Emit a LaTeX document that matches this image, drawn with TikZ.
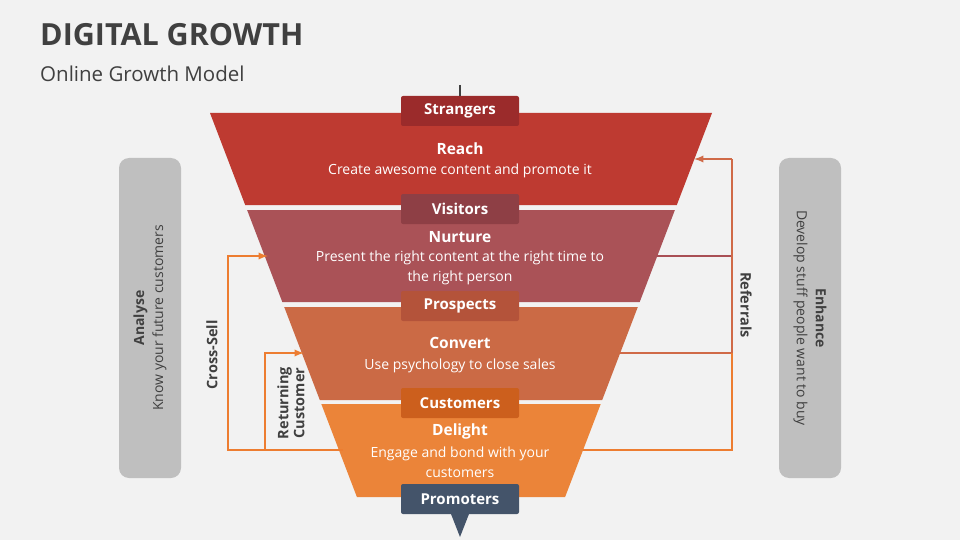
\documentclass[tikz,border=0pt]{standalone}
\usepackage{fontspec}
\setmainfont{Open Sans}
\begin{document}
\begin{tikzpicture}[x=1pt,y=-1pt,
  lbl/.style={rounded corners=2pt,minimum width=118pt,minimum height=30pt,inner sep=0pt,text=white,font=\bfseries\fontsize{15}{17}\selectfont},
  ttl/.style={text=white,font=\bfseries\fontsize{15.5}{18}\selectfont},
  sub/.style={text=white,font=\fontsize{14}{20}\selectfont,align=center},
  side/.style={fill=black!25,rounded corners=10pt},
  conn/.style={line width=2.2pt},
  dk/.style={text=black!75,font=\bfseries\fontsize{14.5}{16}\selectfont}]
\fill[black!5] (0,0) rectangle (960,540);
\useasboundingbox (0,0) rectangle (960,540);
\node[anchor=west,text=black!75,inner sep=0pt,font=\bfseries\fontsize{30.5}{34}\selectfont] (title) at (40,35) {DIGITAL GROWTH};
\node[anchor=west,text=black!75,inner sep=0pt,font=\fontsize{20.5}{24}\selectfont] (subt) at (40,74) {Online Growth Model};
% funnel bands
\fill[fill={rgb,255:red,190;green,58;blue,49}] (210,113) -- (712,113) -- (676.8,205) -- (245.2,205) -- cycle;
\fill[fill={rgb,255:red,170;green,82;blue,87}] (247.1,210) -- (674.9,210) -- (639.7,302) -- (282.3,302) -- cycle;
\fill[fill={rgb,255:red,203;green,106;blue,69}] (284.2,307) -- (637.8,307) -- (602.2,400) -- (319.8,400) -- cycle;
\fill[fill={rgb,255:red,235;green,132;blue,57}] (321.3,404) -- (600.7,404) -- (565.1,497) -- (356.9,497) -- cycle;
% side boxes
\fill[side] (119,158) rectangle (181,478);
\fill[side] (779,158) rectangle (841,478);
\node[rotate=90,align=center,text=black!75,font=\fontsize{14}{19}\selectfont] (an) at (150,318) {\textbf{Analyse}\\Know your future customers};
\node[rotate=-90,align=center,text=black!75,font=\fontsize{14}{19}\selectfont] (en) at (810,318) {\textbf{Enhance}\\Develop stuff people want to buy};
% labels
\node[lbl,fill={rgb,255:red,155;green,43;blue,43}] (s1) at (460,111) {Strangers};
\coordinate (tp) at (s1.north |- 0,85);
\draw[line width=2pt,black!75] (tp) -- (s1.north);
\node[lbl,fill={rgb,255:red,142;green,63;blue,69}] (s2) at (460,209) {Visitors};
\node[lbl,fill={rgb,255:red,180;green,83;blue,58}] (s3) at (460,306) {Prospects};
\node[lbl,fill={rgb,255:red,204;green,95;blue,29}] (s4) at (460,403) {Customers};
\node[lbl,fill={rgb,255:red,68;green,84;blue,106}] (s5) at (460,499) {Promoters};
\coordinate (bt) at (460,537);
\fill[fill={rgb,255:red,68;green,84;blue,106}] (451,514) -- (469,514) -- (bt) -- cycle;
% texts
\node[ttl] (t1) at (460,149) {Reach};
\node[sub] (d1) at (460,171) {Create awesome content and promote it};
\node[ttl] (t2) at (460,237) {Nurture};
\node[sub] (d2) at (460,268) {Present the right content at the right time to\\the right person};
\node[ttl] (t3) at (460,343) {Convert};
\node[sub] (d3) at (460,366) {Use psychology to close sales};
\node[ttl] (t4) at (460,431) {Delight};
\node[sub] (d4) at (460,462) {Engage and bond with your\\customers};
% left connectors
\coordinate (c4l) at (343,450);
\coordinate (c2l) at (268,256);
\coordinate (c3l) at (304,353);
\draw[conn,draw={rgb,255:red,237;green,125;blue,49},-latex] (c4l) -- (228,450) -- (228,256) -- (c2l);
\draw[conn,draw={rgb,255:red,237;green,125;blue,49},-latex] (265,450) -- (265,353) -- (c3l);
\node[dk,rotate=90] (cs) at (212,355) {Cross-Sell};
\node[dk,rotate=90,align=center] (rc) at (291,403) {Returning\\Customer};
% right connectors
\coordinate (r1) at (694,159);
\coordinate (r2) at (657,256);
\coordinate (r3) at (620,353);
\coordinate (r4) at (583,450);
\draw[conn,draw={rgb,255:red,169;green,79;blue,85}] (r2) -- (732,256);
\draw[conn,draw={rgb,255:red,208;green,106;blue,72}] (r3) -- (732,353) -- (732,159);
\draw[conn,draw={rgb,255:red,208;green,106;blue,72},-latex] (732,159) -- (r1);
\draw[conn,draw={rgb,255:red,237;green,125;blue,49}] (r4) -- (732,450) -- (732,353);
\node[dk,rotate=-90] (rf) at (746,305) {Referrals};
\end{tikzpicture}
\end{document}
